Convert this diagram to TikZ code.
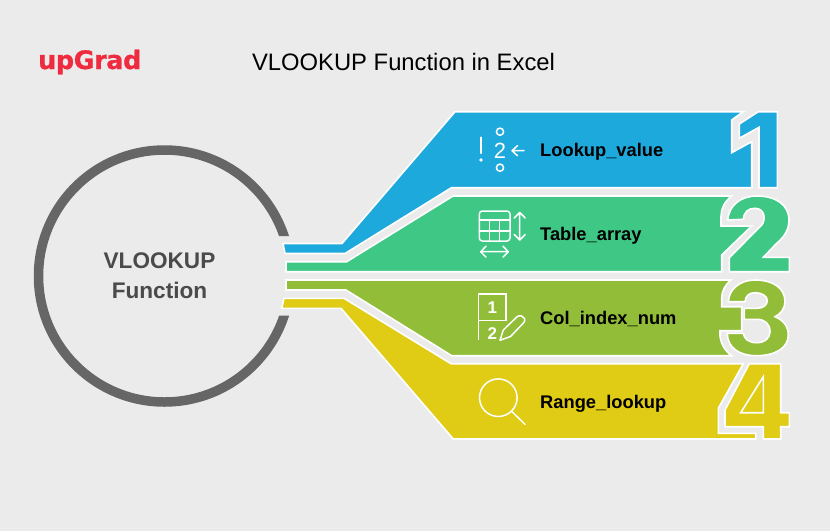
\documentclass[tikz,border=0pt]{standalone}
\usepackage{fontspec}
\setmainfont{Liberation Sans}
\newfontfamily\logofont[BoldFeatures={FakeBold=0.9,LetterSpace=-1.5}]{DejaVu Sans}
\definecolor{bgc}{HTML}{EBEBEB}
\definecolor{ringc}{HTML}{666666}
\definecolor{bluec}{HTML}{1EA9DC}
\definecolor{greenc}{HTML}{3EC785}
\definecolor{olivec}{HTML}{92BD39}
\definecolor{yellowc}{HTML}{E0CB15}
\definecolor{logoc}{HTML}{EF2B3F}
\definecolor{darkt}{HTML}{4A4A4A}
\tikzset{
  band/.style={fill=#1,draw=white,line width=1.6pt,line join=miter},
  icon/.style={draw=white,line width=1.5pt,line cap=round,line join=round},
  steplabel/.style={anchor=base west,inner sep=0pt,font=\fontsize{18.3}{20}\selectfont\bfseries,text=black},
  icontext/.style={inner sep=0pt,text=white,font=\fontsize{#1}{#1}\selectfont},
}
\begin{document}
\begin{tikzpicture}[x=1pt,y=-1pt]
\useasboundingbox (0,0) rectangle (830,531);
\fill[bgc] (0,0) rectangle (830,531);
% ring
\begin{scope}
\clip (0,0) rectangle (830,236) (0,315.5) rectangle (830,531) (0,236) rectangle (270,315.5);
\draw[ringc,line width=9.5pt] (164.5,276) circle[radius=126];
\end{scope}
\node[inner sep=0pt,align=center,text=darkt,font=\fontsize{22.6}{30}\selectfont\bfseries] (center) at (159.5,275.5) {VLOOKUP\\Function};
\node[inner sep=0pt,text=black,font=\fontsize{23.8}{28}\selectfont,anchor=base] (title) at (403.5,70.5) {VLOOKUP Function in Excel};
\node[inner sep=0pt,text=logoc,font=\logofont\fontsize{25.4}{30}\selectfont\bfseries,anchor=base west] (logo) at (38,69) {upGrad};
% band 1
\draw[band=bluec] (283,243.5) -- (342,243.5) -- (455,111.7) -- (743.3,111.7) -- (731.7,120) -- (731.7,152.7) -- (751.7,141.7) -- (751.7,187.7) -- (451.5,187.7) -- (345,253.5) -- (285,253.5) -- cycle;
\draw[band=bluec] (758.3,111.7) -- (777.3,111.7) -- (777.3,187.7) -- (759,187.7) -- (759,127.3) -- (739.3,138.3) -- (739.3,124) -- cycle;
% band 2
\draw[band=greenc] (286,261.7) -- (346.7,261.7) -- (453,196) -- (731.7,196) .. controls (724,202) and (721,209) .. (721,216.7) -- (721,226) -- (751.7,226) -- (721.7,255) -- (721.7,271.7) -- (286,271.7) -- cycle;
\draw[band=greenc] (727.7,220) .. controls (729,205) and (741,196) .. (756.7,196) .. controls (776,196) and (789,205) .. (789,220) .. controls (789,231) and (783,238) .. (776,244) -- (763.3,257.3) -- (789.3,257.3) -- (789.3,271.7) -- (729.3,271.7) -- (729.3,257.7) -- (761.7,225) .. controls (766,220) and (765,208.3) .. (755,208.3) .. controls (748,208.3) and (744,212) .. (743.3,219.3) -- cycle;
% band 3
\draw[band=olivec] (286,280) -- (731,280) .. controls (725,285) and (721.7,291) .. (721.7,298.3) -- (721.7,306.7) -- (741.7,306.7) -- (741.7,330.7) -- (720,330.7) -- (720,336) .. controls (721,344) and (725,351) .. (731.7,355.7) -- (451.7,355.7) -- (346,290) -- (286,290) -- cycle;
\draw[band=olivec] (728.3,301.7) .. controls (729,289) and (740,280) .. (755,280) .. controls (773,280) and (785,288) .. (785,301.7) .. controls (785,308) and (781,314) .. (775,316.7) .. controls (783,320) and (788.3,326) .. (788.3,335) .. controls (788.3,348) and (775,355.7) .. (756.7,355.7) .. controls (738,355.7) and (727.5,347) .. (727.3,333.3) -- (743.3,333.3) .. controls (744,339) and (749,342.7) .. (756.7,342.7) .. controls (765,342.7) and (770,338) .. (770,331.7) .. controls (770,324) and (765,319.3) .. (756.7,319.3) -- (744.3,319.3) -- (744.3,308.3) -- (756.7,308.3) .. controls (763,308.3) and (767.3,305) .. (767.3,300.7) .. controls (767.3,296) and (762,292.7) .. (755,292.7) .. controls (749,292.7) and (745.5,296) .. (745,301.7) -- cycle;
% band 4
\draw[band=yellowc] (284,298.3) -- (344,298.3) -- (451,363.7) -- (743.3,363.7) -- (718.3,408.3) -- (718.3,433.3) -- (755.7,433.3) -- (755.7,439) -- (453.3,439) -- (341,308.3) -- (281.7,308.3) -- cycle;
\draw[band=yellowc] (749.3,363.7) -- (780.7,363.7) -- (780.7,412.7) -- (789.3,412.7) -- (789.3,426.7) -- (780.7,426.7) -- (780.7,439) -- (763.3,439) -- (763.3,426.7) -- (725,426.7) -- (725,410) -- cycle;
\draw[band=yellowc] (763.3,376.7) -- (763.3,412.7) -- (740.7,412.7) -- cycle;
% labels
\node[steplabel] (l1) at (540,156.5) {Lookup\_value};
\node[steplabel] (l2) at (540,240.5) {Table\_array};
\node[steplabel] (l3) at (540,324.5) {Col\_index\_num};
\node[steplabel] (l4) at (540,408.5) {Range\_lookup};
% icon 1
\draw[icon] (481,137.3) -- (481,153.3);
\fill[white] (481,160) circle[radius=1.8];
\draw[icon] (500,131.7) circle[radius=3.6];
\draw[icon] (500,167.7) circle[radius=3.6];
\node[icontext=22] (i1) at (500,151) {2};
\draw[icon] (524,150.7) -- (512,150.7) (517.5,145.7) -- (512,150.7) -- (517.5,155.7);
% icon 2
\draw[icon,rounded corners=3pt] (479.3,211) rectangle (510,241);
\draw[icon] (479.3,220) -- (510,220) (479.3,231) -- (510,231) (489.5,220) -- (489.5,241) (499.5,220) -- (499.5,241);
\draw[icon] (519.7,213) -- (519.7,239.5) (514.2,218) -- (519.7,212.5) -- (525.2,218) (514.2,234.5) -- (519.7,240) -- (525.2,234.5);
\draw[icon] (481,251.7) -- (508,251.7) (486,246.2) -- (480.7,251.7) -- (486,257.2) (503,246.2) -- (508.3,251.7) -- (503,257.2);
% icon 3
\draw[icon,line cap=butt,line join=miter] (478.3,339.7) -- (478.3,294) -- (506,294) -- (506,320.3) -- (478.3,320.3);
\node[icontext=17,font=\fontsize{17}{17}\selectfont\bfseries] (i3a) at (492.3,308) {1};
\node[icontext=17,font=\fontsize{17}{17}\selectfont\bfseries] (i3b) at (492.3,333.7) {2};
\draw[icon] (500,340.3) -- (503.3,330) -- (517,316.8) .. controls (520,314.5) and (523,316) .. (524.5,318.5) .. controls (525.2,320.5) and (524.5,322) .. (523,323.5) -- (510.5,336.5) -- cycle;
% icon 4
\draw[icon] (498.3,397.7) circle[radius=18.8];
\draw[icon] (511.8,411.5) -- (525,424.3);
\end{tikzpicture}
\end{document}
